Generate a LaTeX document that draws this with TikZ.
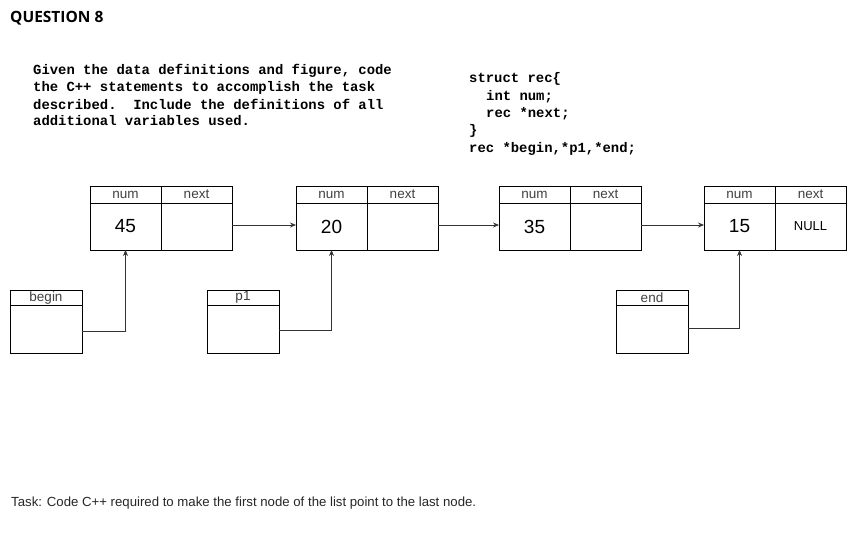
\documentclass[tikz,border=0pt]{standalone}
\usepackage{fontspec}
\setmainfont{Liberation Sans}
\setmonofont{Liberation Mono}
\newfontfamily\headf{Open Sans}
\usetikzlibrary{arrows.meta}
\begin{document}
\begin{tikzpicture}[x=1pt,y=-1pt,
  bx/.style={draw=black,line width=0.8pt},
  lbl/.style={font=\fontsize{13.5}{15}\selectfont,text=black!75},
  val/.style={font=\fontsize{19}{21}\selectfont},
  code/.style={font=\ttfamily\bfseries\fontsize{13.9}{15}\selectfont,anchor=west,inner sep=0},
  conn/.style={draw=black!80,line width=0.7pt,-{Stealth[length=6pt,width=5pt]}}]
\useasboundingbox (0,0) rectangle (866,550);
\node[anchor=west,inner sep=0,font=\headf\fontsize{15.5}{17}\selectfont\bfseries] (title) at (10,18) {QUESTION 8};
\node[code] (g1) at (33,71) {Given the data definitions and figure, code};
\node[code] (g2) at (33,87.5) {the C++ statements to accomplish the task};
\node[code] (g3) at (33,104) {described.\ \ Include the definitions of all};
\node[code] (g4) at (33,120.5) {additional variables used.};
\node[code] (s1) at (469,79) {struct rec\{};
\node[code] (s2) at (486,97) {int num;};
\node[code] (s3) at (486,114) {rec *next;};
\node[code] (s4) at (469,131) {\}};
\node[code] (s5) at (469,149) {rec *begin,*p1,*end;};
% list nodes
\foreach \n/\x/\v in {a/90/45,b/296/20,c/499/35,d/704/15}{
  \draw[bx] (\x,186) rectangle (\x+142,250);
  \draw[bx] (\x,203) -- (\x+142,203);
  \draw[bx] (\x+71,186) -- (\x+71,250);
  \node[lbl] (\n num) at (\x+35.5,194.5) {num};
  \node[lbl] (\n next) at (\x+106.5,194.5) {next};
  \node[val] (\n val) at (\x+35.5,226.5) {\v};
  \coordinate (\n in) at (\x,225);
  \coordinate (\n out) at (\x+142,225);
  \coordinate (\n bot) at (\x+35.5,250);
}
\node[font=\fontsize{13}{15}\selectfont] (dnull) at (704+106.5,226.5) {NULL};
\draw[conn] (aout) -- (bin);
\draw[conn] (bout) -- (cin);
\draw[conn] (cout) -- (din);
% pointer boxes
\foreach \n/\x/\t in {pb/10/begin,pp/207/p1,pe/616/end}{
  \draw[bx] (\x,290) rectangle (\x+72,353);
  \draw[bx] (\x,305) -- (\x+72,305);
  \node[lbl] (\n lab) at (\x+36,297.5) {\t};
}
\coordinate (pbo) at (82,331);
\coordinate (ppo) at (279,330);
\coordinate (peo) at (688,328);
\draw[conn] (pbo) -| (abot);
\draw[conn] (ppo) -| (bbot);
\draw[conn] (peo) -| (dbot);
\node[anchor=west,inner sep=0,font=\fontsize{13.2}{15}\selectfont,text=black!85] (task) at (11,503) {Task: Code C++ required to make the first node of the list point to the last node.};
\end{tikzpicture}
\end{document}
